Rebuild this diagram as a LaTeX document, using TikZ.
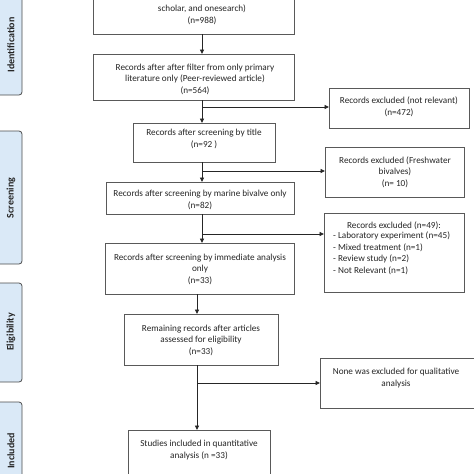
\documentclass[tikz,border=0pt]{standalone}
\usepackage{fontspec}
\setmainfont{Carlito}
\usetikzlibrary{arrows.meta}
\definecolor{tabfill}{RGB}{218,233,247}
\begin{document}
\begin{tikzpicture}[x=1pt,y=-1pt,
  every node/.style={font=\fontsize{9.2}{11.5}\selectfont, text=black!85},
  mainbox/.style={draw=black!65, line width=0.8pt, fill=white},
  tab/.style={draw=black!70, line width=0.8pt, fill=tabfill, rounded corners=3pt},
  tablabel/.style={rotate=90, font=\fontsize{10}{12}\selectfont\bfseries, text=black!85},
  arr/.style={draw=black!85, line width=0.9pt, -{Triangle[length=4.5pt,width=4pt]}},
  lbl/.style={align=center, inner sep=0pt}]
\useasboundingbox (0,0) rectangle (474,474);
\clip (0,0) rectangle (474,474);

% phase tabs
\draw[tab] (-5,-10) rectangle (22,95);
\node[tablabel] (tid) at (11,45) {Identification};
\draw[tab] (-5,131) rectangle (22,264);
\node[tablabel] (tsc) at (11,198) {Screening};
\draw[tab] (-5,283) rectangle (22,382);
\node[tablabel] (tel) at (11,332) {Eligibility};
\draw[tab] (-5,402) rectangle (22,490);
\node[tablabel] (tin) at (11,451) {Included};

% main boxes
\draw[mainbox] (93,-20) rectangle (294,34);
\node[lbl] (b1) at (202,15) {scholar, and onesearch)\\(n=988)};
\coordinate (b1s) at (202,34);

\draw[mainbox] (93,54) rectangle (294,100);
\node[lbl] (b2) at (195,79) {Records after after filter from only primary\\literature only (Peer-reviewed article)\\(n=564)};
\coordinate (b2n) at (202,54);
\coordinate (b2s) at (202,100);

\draw[mainbox] (133,123) rectangle (275,162);
\node[lbl] (b3) at (204,139) {Records after screening by title\\(n=92 )};
\coordinate (b3n) at (202,123);
\coordinate (b3s) at (202,162);

\draw[mainbox] (106,182) rectangle (294,214);
\node[lbl] (b4) at (200,200) {Records after screening by marine bivalve only\\(n=82)};
\coordinate (b4n) at (202,182);
\coordinate (b4s) at (202,214);

\draw[mainbox] (105,243) rectangle (294,294);
\node[lbl] (b5) at (200,269) {Records after screening by immediate analysis\\only\\(n=33)};
\coordinate (b5n) at (202,243);
\coordinate (b5s) at (197,294);

\draw[mainbox] (124,314) rectangle (278,365);
\node[lbl] (b6) at (201,340) {Remaining records after articles\\assessed for eligibility\\(n=33)};
\coordinate (b6n) at (197,314);
\coordinate (b6s) at (197,365);

\draw[mainbox] (128,430) rectangle (270,490);
\node[lbl] (b7) at (199,450) {Studies included in quantitative\\analysis (n =33)};
\coordinate (b7n) at (197,430);

% exclusion boxes
\draw[mainbox] (329,88) rectangle (469,128);
\node[lbl] (e1) at (399,107) {Records excluded (not relevant)\\(n=472)};
\coordinate (e1w) at (329,107);

\draw[mainbox] (325,147) rectangle (464,197);
\node[lbl] (e2) at (395,172) {Records excluded (Freshwater\\bivalves)\\(n= 10)};
\coordinate (e2w) at (325,171);

\draw[mainbox] (324,213) rectangle (464,292);
\node[lbl] (e3t) at (394,226) {Records excluded (n=49):};
\node[lbl, anchor=north west, align=left] (e3) at (333,232) {- Laboratory experiment (n=45)\\- Mixed treatment (n=1)\\- Review study (n=2)\\- Not Relevant (n=1)};
\coordinate (e3w) at (324,234);

\draw[mainbox] (320,358) rectangle (478,408);
\node[lbl] (e4) at (396,378) {None was excluded for qualitative\\analysis};
\coordinate (e4w) at (320,383);

% connectors
\draw[arr] (b1s) -- (b2n);
\draw[arr] (b2s) -- (b3n);
\draw[arr] (b3s) -- (b4n);
\draw[arr] (b4s) -- (b5n);
\draw[arr] (b5s) -- (b6n);
\draw[arr] (b6s) -- (b7n);
\draw[arr] (b2s |- e1w) -- (e1w);
\draw[arr] (b3s |- e2w) -- (e2w);
\draw[arr] (b4s |- e3w) -- (e3w);
\draw[arr] (b6s |- e4w) -- (e4w);
\end{tikzpicture}
\end{document}
